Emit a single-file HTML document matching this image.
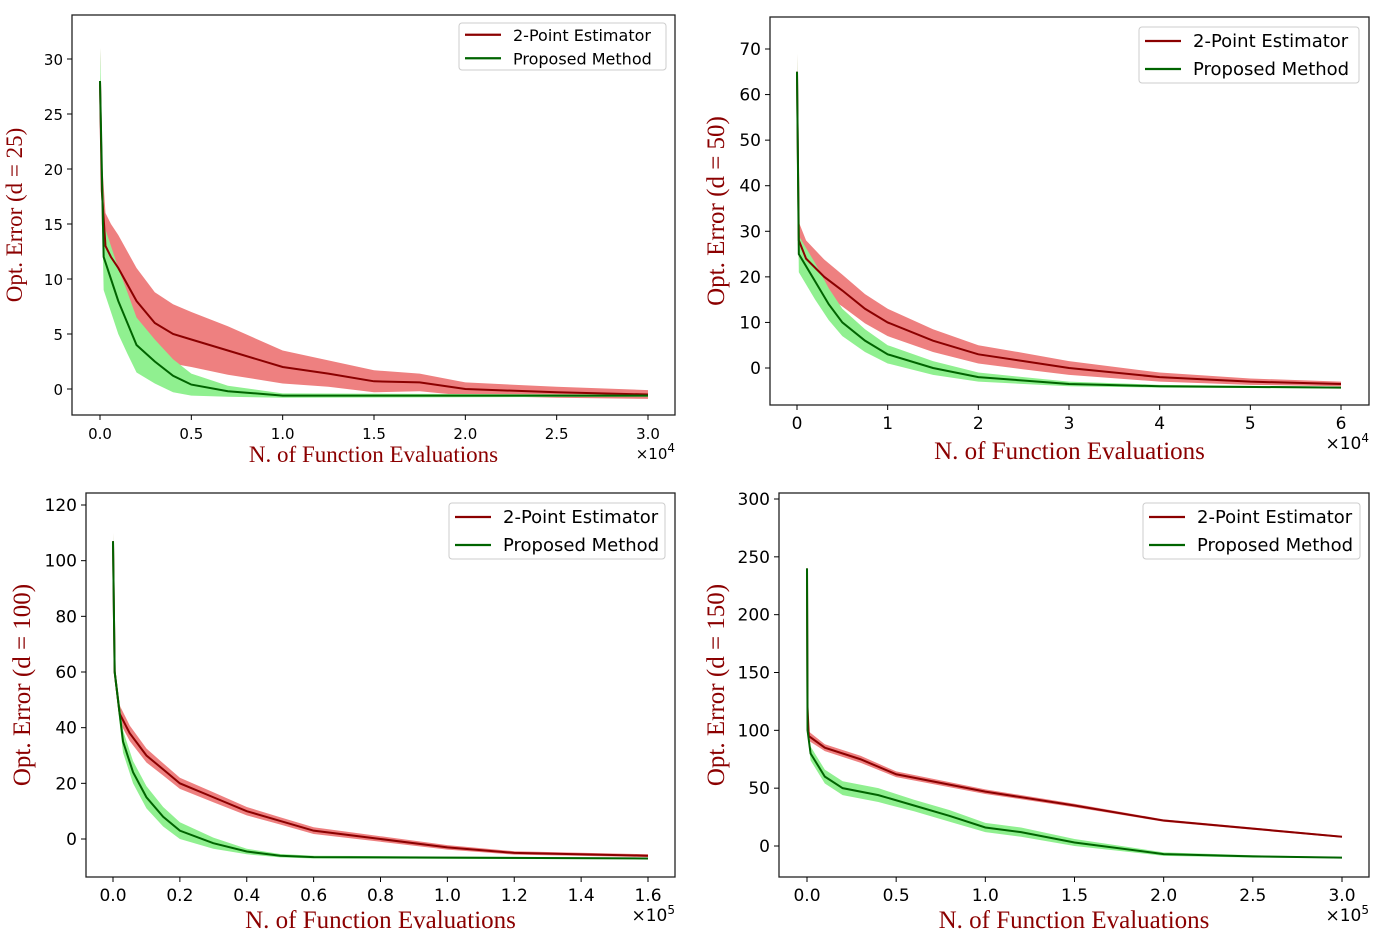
<!DOCTYPE html>
<html><head><meta charset="utf-8">
<style>
body{margin:0;background:#fff;width:1383px;height:950px;overflow:hidden}
svg{position:absolute;left:0;top:0}
.tick{font-family:"DejaVu Sans","Liberation Sans",sans-serif;fill:#000}
.lab{font-family:"Liberation Serif","DejaVu Serif",serif;fill:#8b0000}
.leg{font-family:"DejaVu Sans","Liberation Sans",sans-serif;fill:#000}
</style></head><body>
<svg id="chart" width="1383" height="950"></svg>
<script>
// Panel 1 (d=25), x in 1e4
const p1X=[0,0.01,0.03,0.06,0.1,0.15,0.2,0.3,0.4,0.5,0.7,1.0,1.25,1.5,1.75,2.0,2.5,3.0];
const p1Red=[28,18,13,12,11,9.5,8,6,5,4.5,3.5,2,1.4,0.7,0.6,0,-0.3,-0.5];
const p1RedBand=[3,3,3,3,3,3,3,2.8,2.7,2.5,2.2,1.5,1.2,1,0.8,0.6,0.5,0.4];
const p1GX=[0,0.02,0.06,0.1,0.15,0.2,0.3,0.4,0.5,0.7,1.0,3.0];
const p1Green=[28,12,10,8,6,4,2.5,1.2,0.4,-0.2,-0.6,-0.6];
const p1GreenBand=[3,3,3,3,2.8,2.5,2,1.5,1,0.5,0.2,0.1];
// Panel 2 (d=50), x in 1e4
const p2X=[0,0.02,0.1,0.3,0.5,0.75,1,1.5,2,2.5,3,4,5,6];
const p2Red=[65,28,24,20,17,13,10,6,3,1.5,0,-2,-3,-3.5];
const p2RedBand=[4,4,4,3.8,3.5,3.2,3,2.5,2,1.8,1.5,1,0.7,0.5];
const p2GX=[0,0.02,0.2,0.35,0.5,0.75,1,1.5,2,3,4,6];
const p2Green=[65,25,19,14,10,6,3,0,-2,-3.5,-4,-4.3];
const p2GreenBand=[4,4,4,3.5,3,2.5,2,1.5,1,0.5,0.3,0.2];
// Panel 3 (d=100), x in 1e5
const p3X=[0,0.005,0.02,0.05,0.1,0.15,0.2,0.3,0.4,0.5,0.6,0.8,1.0,1.2,1.6];
const p3Red=[107,60,45,38,30,25,20,15,10,6.5,3,0,-3,-5,-6];
const p3RedBand=[3,3,3,2.8,2.5,2.2,2,1.8,1.5,1.3,1.2,1,0.8,0.6,0.5];
const p3GX=[0,0.005,0.03,0.06,0.1,0.15,0.2,0.3,0.4,0.5,0.6,1.6];
const p3Green=[107,60,35,24,15,8,3,-1.5,-4.5,-6,-6.5,-7];
const p3GreenBand=[3,3,4,4,4,3.5,3,2,1,0.6,0.5,0.3];
// Panel 4 (d=150), x in 1e5
const p4X=[0,0.003,0.01,0.1,0.3,0.5,1.0,1.5,2,2.5,3];
const p4Red=[240,120,95,85,75,62,47,35,22,15,8];
const p4RedBand=[4,4,4,3,3,2.5,2,1.5,1,1,0.8];
const p4GX=[0,0.003,0.02,0.1,0.2,0.4,0.6,0.8,1.0,1.2,1.5,2.0,2.5,3];
const p4Green=[240,100,80,60,50,44,35,26,16,12,3,-7,-9,-10];
const p4GreenBand=[5,5,6,6,6,6,5,5,4,4,3,1.5,1,0.5];
const p1XV=[0,0.5,1,1.5,2,2.5,3];
const p1YV=[0,5,10,15,20,25,30];
const p2XV=[0,1,2,3,4,5,6];
const p2YV=[0,10,20,30,40,50,60,70];
const p3XV=[0,0.2,0.4,0.6,0.8,1.0,1.2,1.4,1.6];
const p3YV=[0,20,40,60,80,100,120];
const p4XV=[0,0.5,1,1.5,2,2.5,3];
const p4YV=[0,50,100,150,200,250,300];

const NS="http://www.w3.org/2000/svg";
const svg=document.getElementById('chart');
function mk(t,a,parent){const e=document.createElementNS(NS,t);for(const k in a)e.setAttribute(k,a[k]);(parent||svg).appendChild(e);return e;}
function lin(d0,d1,r0,r1){return v=>r0+(v-d0)*(r1-r0)/(d1-d0);}
const panels=[
 {box:[72,15,675,415],xs:lin(0,3,100,648),ys:lin(0,30,389,59),xv:p1XV,fmt:v=>v.toFixed(1),yv:p1YV,exp:"4",ylab:"Opt. Error (d = 25)",
  X:p1X,R:p1Red,RB:p1RedBand,GX:p1GX,G:p1Green,GB:p1GreenBand,leg:[459,23,666,70],fs:16,tf:15,lf:23,xly:462,yly:22},
 {box:[770,17,1369,405],xs:lin(0,6,797,1341),ys:lin(0,70,368,49),xv:p2XV,fmt:v=>String(v),yv:p2YV,exp:"4",ylab:"Opt. Error (d = 50)",
  X:p2X,R:p2Red,RB:p2RedBand,GX:p2GX,G:p2Green,GB:p2GreenBand,leg:[1139,27,1359,83],fs:18,tf:17,lf:25,xly:459,yly:724},
 {box:[86,493,675,877],xs:lin(0,1.6,113,648),ys:lin(0,120,839,505),xv:p3XV,fmt:v=>v.toFixed(1),yv:p3YV,exp:"5",ylab:"Opt. Error (d = 100)",
  X:p3X,R:p3Red,RB:p3RedBand,GX:p3GX,G:p3Green,GB:p3GreenBand,leg:[449,503,665,559],fs:18,tf:17,lf:25,xly:928,yly:30},
 {box:[779,493,1369,877],xs:lin(0,3,807,1342),ys:lin(0,300,846,499),xv:p4XV,fmt:v=>v.toFixed(1),yv:p4YV,exp:"5",ylab:"Opt. Error (d = 150)",
  X:p4X,R:p4Red,RB:p4RedBand,GX:p4GX,G:p4Green,GB:p4GreenBand,leg:[1143,503,1360,559],fs:18,tf:17,lf:25,xly:928,yly:724}
];
panels.forEach((p,i)=>{
 const g=mk('g',{});
 
 
 const [x0,y0,x1,y1]=p.box;
 const band=(X,M,B,fill,name)=>{
  let pts=X.map((x,k)=>p.xs(x)+','+p.ys(M[k]+B[k]));
  pts=pts.concat(X.map((x,k)=>p.xs(x)+','+p.ys(M[k]-B[k])).reverse());
  const e=mk('polygon',{points:pts.join(' '),fill:fill,stroke:'none'},g);
  
  
 };
 band(p.X,p.R,p.RB,'#ee8080','red-band');
 band(p.GX,p.G,p.GB,'#90f090','green-band');
 const line=(X,M,col,name)=>{
  const e=mk('polyline',{points:X.map((x,k)=>p.xs(x)+','+p.ys(M[k])).join(' '),fill:'none',stroke:col,'stroke-width':2},g);
  
  
 };
 line(p.X,p.R,'#8b0000','line-2-point-estimator');
 line(p.GX,p.G,'#006400','line-proposed-method');
 const fr=mk('rect',{x:x0,y:y0,width:x1-x0,height:y1-y0,fill:'none',stroke:'#222','stroke-width':1.3},g);
 
 
 p.xv.forEach(v=>{
  const x=p.xs(v);
  mk('line',{x1:x,x2:x,y1:y1,y2:y1+5,stroke:'#000'},g);
  const t=mk('text',{x:x,y:y1+24,'text-anchor':'middle',class:'tick','font-size':p.tf},g);
  t.textContent=p.fmt(v);
  
  
 });
 p.yv.forEach(v=>{
  const y=p.ys(v);
  mk('line',{x1:x0-5,x2:x0,y1:y,y2:y,stroke:'#000'},g);
  const t=mk('text',{x:x0-9,y:y+6,'text-anchor':'end',class:'tick','font-size':p.tf},g);
  t.textContent=String(v);
  
  
 });
 const ex=mk('text',{x:x1,y:y1+44,'text-anchor':'end',class:'tick','font-size':p.tf},g);
 ex.innerHTML='×10<tspan dy="-7" font-size="12">'+p.exp+'</tspan>';
 
 
 const xl=mk('text',{x:(x0+x1)/2,y:p.xly,'text-anchor':'middle',class:'lab','font-size':p.lf},g);
 xl.textContent='N. of Function Evaluations';
 
 
 const yl=mk('text',{x:0,y:0,'text-anchor':'middle',class:'lab','font-size':p.lf,transform:'translate('+p.yly+','+((y0+y1)/2)+') rotate(-90)'},g);
 yl.textContent=p.ylab;
 
 
 const [lx0,ly0,lx1,ly1]=p.leg;
 const lg=mk('g',{},g);
 
 
 mk('rect',{x:lx0,y:ly0,width:lx1-lx0,height:ly1-ly0,fill:'#fff',stroke:'#ccc',rx:3},lg);
 const h=(ly1-ly0)/2;
 [['2-Point Estimator','#8b0000'],['Proposed Method','#006400']].forEach((e,k)=>{
  const cy=ly0+h*(k+0.5);
  mk('line',{x1:lx0+6,x2:lx0+42,y1:cy,y2:cy,stroke:e[1],'stroke-width':2.2},lg);
  const t=mk('text',{x:lx0+54,y:cy+6,class:'leg','font-size':p.fs},lg);
  t.textContent=e[0];
  
  
 });
});
</script>
</body></html>
